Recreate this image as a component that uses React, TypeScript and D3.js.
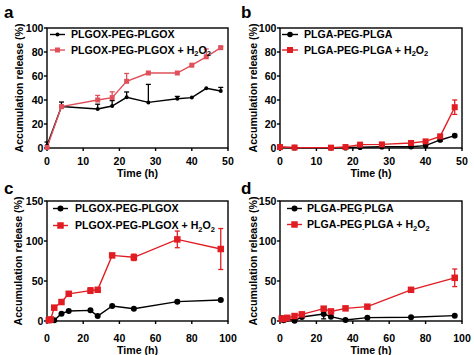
import React from "react";
import * as d3 from "d3";

// ---------- DATA ----------
const timeAB = [0, 4, 14, 18, 22, 28, 36, 40, 44, 48];
const aBlack = [2, 34.5, 32.5, 35, 42.2, 38, 41, 42, 49.7, 47.5];
const aBlackErr = [3, 3.8, 4, 4.5, 4.5, 15, 2, 0, 0, 3];
const aRed = [0.5, 34.5, 40, 42, 55.6, 62.5, 62.5, 69, 76, 83.6];
const aRedErr = [0, 0, 3.8, 4.8, 6.5, 0, 0, 0, 6.5, 1];

const bBlack = [0.5, 0.3, 0.2, 0.3, 0.6, 1, 1.1, 2, 6.7, 10.3];
const bBlackErr = [0, 0, 0, 0, 0, 0, 0, 0, 1, 1];
const bRed = [0.8, 0.4, 0.3, 0.8, 2.8, 3, 4.2, 5.5, 9.7, 34];
const bRedErr = [0, 0, 0, 0, 0.8, 0.8, 1, 1, 1.5, 6];

const timeCD = [1, 2, 4, 8, 12, 24, 28, 36, 48, 72, 96];
const cBlack = [1, 1.5, 1, 9.2, 12.5, 13.3, 6.2, 18.7, 15.4, 24.2, 26.2];
const cBlackErr = [0, 0, 0, 0, 0, 0, 0, 0, 0, 1.5, 1];
const cRed = [1, 2, 16.7, 23.7, 34, 38, 39, 82, 79.6, 102, 90];
const cRedErr = [0, 0, 0, 0, 0, 3.5, 0, 0, 4, 10.4, 25.6];

const dBlack = [3.5, 1, 3, 0.4, 5, 8.7, 5.4, 1.2, 4.2, 4.6, 6.7];
const dBlackErr = [0, 0, 0, 0, 1.5, 6, 0, 0, 0, 0, 0];
const dRed = [3, 2.5, 4, 6.2, 8.3, 15.4, 12, 15.8, 17.9, 39, 54];
const dRedErr = [0, 0, 0, 0, 0, 1.5, 1, 0, 0, 0, 11];

const xTicks50 = [0, 10, 20, 30, 40, 50];
const xTicks100 = [0, 20, 40, 60, 80, 100];
const yTicks100 = [0, 20, 40, 60, 80, 100];
const yTicks150 = [0, 50, 100, 150];

const FONT = "'Liberation Sans', Arial, Helvetica, sans-serif";
const FS = 10.6;

type PanelCfg = {
  letter: string;
  lx: number; ly: number;
  left: number; right: number; top: number; bottom: number;
  xMax: number; yMax: number;
  xTicks: number[]; yTicks: number[];
  times: number[];
  black: number[]; blackErr: number[];
  red: number[]; redErr: number[];
  redColor: string;
  upOnly: boolean;
  blackR: number; redS: number;
  name: string; dashLow: boolean;
  leg: { y1: number; y2: number; lx0: number; lx1: number; tx: number };
  yTitleX: number;
  xLabOff: number; xTitleOff: number;
};

function Panel({ c }: { c: PanelCfg }) {
  const x = d3.scaleLinear().domain([0, c.xMax]).range([c.left, c.right]);
  const y = d3.scaleLinear().domain([0, c.yMax]).range([c.bottom, c.top]);
  const line = d3.line<number>().x((_, i) => x(c.times[i])).y((v) => y(v));
  const errBars = (vals: number[], errs: number[], color: string, key: string) =>
    vals.map((v, i) => {
      const e = errs[i];
      if (!e) return null;
      const px = x(c.times[i]);
      const yHi = y(v + e);
      const yLo = c.upOnly ? y(v) : y(Math.max(0, v - e));
      return (
        <g key={key + i} stroke={color} strokeWidth={1.3}>
          <line x1={px} x2={px} y1={yHi} y2={yLo} />
          <line x1={px - 2.5} x2={px + 2.5} y1={yHi} y2={yHi} />
          {!c.upOnly && <line x1={px - 2.5} x2={px + 2.5} y1={yLo} y2={yLo} />}
        </g>
      );
    });
  const midY = (c.top + c.bottom) / 2;
  const nameEl = (plus: boolean) => {
    const parts = c.name.split("|");
    return (
      <>
        {c.dashLow ? (
          <>
            {parts[0]}
            <tspan dy={2.5} fontSize={6}>-</tspan>
            <tspan dy={-2.5}>{parts[1]}</tspan>
          </>
        ) : (
          parts.join("-")
        )}
        {plus && (
          <>
            {" + H"}
            <tspan fontSize={7.5} dy={2.5}>2</tspan>
            <tspan dy={-2.5}>O</tspan>
            <tspan fontSize={7.5} dy={2.5}>2</tspan>
          </>
        )}
      </>
    );
  };
  const sq = c.redS;
  const legMid = (c.leg.lx0 + c.leg.lx1) / 2;
  return (
    <g fontFamily={FONT} fontWeight="bold">
      <text x={c.lx} y={c.ly} fontSize={17}>{c.letter}</text>
      {/* frame */}
      <rect x={c.left} y={c.top} width={c.right - c.left} height={c.bottom - c.top}
        fill="none" stroke="#000" strokeWidth={1.4} />
      {/* x ticks */}
      {c.xTicks.map((t) => (
        <g key={"xt" + t}>
          <line x1={x(t)} x2={x(t)} y1={c.bottom} y2={c.bottom + 3} stroke="#000" strokeWidth={1.4} />
          <text x={x(t)} y={c.bottom + c.xLabOff} fontSize={FS} textAnchor="middle">{t}</text>
        </g>
      ))}
      {c.yTicks.map((t) => (
        <g key={"yt" + t}>
          <line x1={c.left - 3} x2={c.left} y1={y(t)} y2={y(t)} stroke="#000" strokeWidth={1.4} />
          <text x={c.left - 3.5} y={y(t) + 3.8} fontSize={FS} textAnchor="end">{t}</text>
        </g>
      ))}
      <text x={(c.left + c.right) / 2} y={c.bottom + c.xTitleOff} fontSize={FS} textAnchor="middle">Time (h)</text>
      <text transform={`translate(${c.yTitleX},${midY}) rotate(-90)`} fontSize={FS} textAnchor="middle">
        Accumulation release (%)
      </text>
      {/* series */}
      {errBars(c.black, c.blackErr, "#000", "be")}
      {errBars(c.red, c.redErr, c.redColor, "re")}
      <path d={line(c.black) || ""} fill="none" stroke="#000" strokeWidth={1.4} />
      <path d={line(c.red) || ""} fill="none" stroke={c.redColor} strokeWidth={1.4} />
      {c.black.map((v, i) => (
        <circle key={"bc" + i} cx={x(c.times[i])} cy={y(v)} r={c.blackR} fill="#000" />
      ))}
      {c.red.map((v, i) => (
        <rect key={"rs" + i} x={x(c.times[i]) - sq / 2} y={y(v) - sq / 2} width={sq} height={sq} fill={c.redColor} />
      ))}
      {/* legend */}
      <line x1={c.leg.lx0} x2={c.leg.lx1} y1={c.leg.y1} y2={c.leg.y1} stroke="#000" strokeWidth={1.4} />
      <circle cx={legMid} cy={c.leg.y1} r={c.blackR} fill="#000" />
      <text x={c.leg.tx} y={c.leg.y1 + 3.8} fontSize={FS}>{nameEl(false)}</text>
      <line x1={c.leg.lx0} x2={c.leg.lx1} y1={c.leg.y2} y2={c.leg.y2} stroke={c.redColor} strokeWidth={1.4} />
      <rect x={legMid - sq / 2} y={c.leg.y2 - sq / 2} width={sq} height={sq} fill={c.redColor} />
      <text x={c.leg.tx} y={c.leg.y2 + 3.8} fontSize={FS}>{nameEl(true)}</text>
    </g>
  );
}

const panels: PanelCfg[] = [
  {
    letter: "a", lx: 4, ly: 18, left: 47, right: 228, top: 28, bottom: 148,
    xMax: 50, yMax: 100, xTicks: xTicks50, yTicks: yTicks100, times: timeAB,
    black: aBlack, blackErr: aBlackErr, red: aRed, redErr: aRedErr,
    redColor: "#e0505a", upOnly: true, blackR: 2, redS: 5,
    name: "PLGOX-PEG|PLGOX", dashLow: false,
    leg: { y1: 34.5, y2: 50, lx0: 50, lx1: 65, tx: 71 }, yTitleX: 23,
    xLabOff: 16.5, xTitleOff: 28.5,
  },
  {
    letter: "b", lx: 241, ly: 18, left: 280, right: 462, top: 28, bottom: 148,
    xMax: 50, yMax: 100, xTicks: xTicks50, yTicks: yTicks100, times: timeAB,
    black: bBlack, blackErr: bBlackErr, red: bRed, redErr: bRedErr,
    redColor: "#e11d23", upOnly: false, blackR: 2.8, redS: 6,
    name: "PLGA-PEG|PLGA", dashLow: false,
    leg: { y1: 34.5, y2: 50, lx0: 282, lx1: 298, tx: 304 }, yTitleX: 257,
    xLabOff: 16.5, xTitleOff: 28.5,
  },
  {
    letter: "c", lx: 4, ly: 194, left: 47, right: 228, top: 201, bottom: 321,
    xMax: 100, yMax: 150, xTicks: xTicks100, yTicks: yTicks150, times: timeCD,
    black: cBlack, blackErr: cBlackErr, red: cRed, redErr: cRedErr,
    redColor: "#e11d23", upOnly: false, blackR: 3, redS: 6.5,
    name: "PLGOX-PEG|PLGOX", dashLow: false,
    leg: { y1: 208.5, y2: 225.5, lx0: 53, lx1: 68, tx: 75 }, yTitleX: 22,
    xLabOff: 20.5, xTitleOff: 32.5,
  },
  {
    letter: "d", lx: 241, ly: 194, left: 280, right: 462, top: 201, bottom: 321,
    xMax: 100, yMax: 150, xTicks: xTicks100, yTicks: yTicks150, times: timeCD,
    black: dBlack, blackErr: dBlackErr, red: dRed, redErr: dRedErr,
    redColor: "#e11d23", upOnly: false, blackR: 3, redS: 6.5,
    name: "PLGA-PEG|PLGA", dashLow: true,
    leg: { y1: 208.5, y2: 224.5, lx0: 287, lx1: 302, tx: 307 }, yTitleX: 257,
    xLabOff: 20.5, xTitleOff: 32.5,
  },
];

export default function App() {
  return (
    <svg width={474} height={355} style={{ position: "absolute", left: 0, top: 0, background: "#fff" }}>
      <rect width={474} height={355} fill="#fff" />
      {panels.map((p) => (
        <Panel key={p.letter} c={p} />
      ))}
    </svg>
  );
}
